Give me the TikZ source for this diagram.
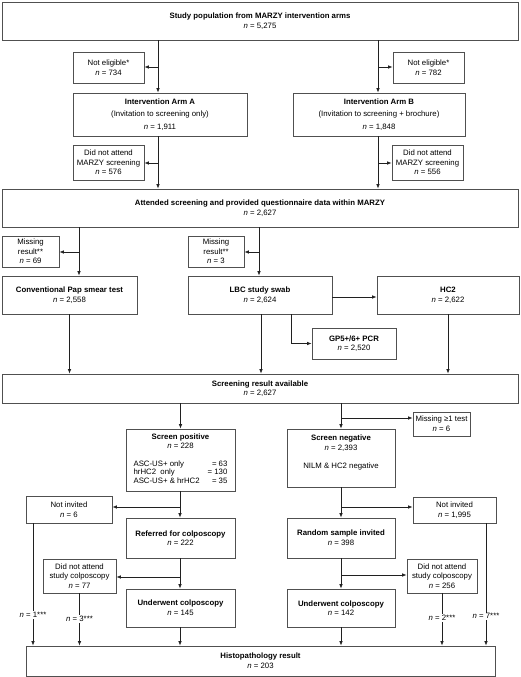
\documentclass[tikz,border=0pt]{standalone}
\usepackage{fontspec}
\setmainfont{Liberation Sans}
\usetikzlibrary{arrows.meta,calc}
\definecolor{boxc}{HTML}{505050}
\definecolor{linec}{HTML}{202020}
\begin{document}
\begin{tikzpicture}[x=1pt,y=-1pt,
  every node/.style={font=\fontsize{7.8}{9.6}\selectfont, text=black},
  box/.style={draw=boxc, line width=0.8pt, align=center, inner sep=0pt},
  conn/.style={draw=linec, line width=0.8pt},
  arr/.style={conn, -{Latex[length=4.5pt,width=3.6pt]}},
  lab/.style={fill=white, inner sep=1pt}]
\useasboundingbox (0,0) rectangle (520,677);
\fill[white] (0,0) rectangle (520,677);
\newcommand{\nn}{\textit{n}}
% boxes
\node[box, minimum width=516pt, minimum height=38pt] (top) at (260,21) {\textbf{Study population from MARZY intervention arms}\\\nn{} = 5,275};
\node[box, minimum width=71pt, minimum height=31pt] (ne1) at (108.5,67.5) {Not eligible*\\\nn{} = 734};
\node[box, minimum width=71pt, minimum height=31pt] (ne2) at (428.5,67.5) {Not eligible*\\\nn{} = 782};
\node[box, minimum width=174pt, minimum height=43pt] (armA) at (160,114.5) {\textbf{Intervention Arm A}\\[3.2pt](Invitation to screening only)\\[3.2pt]\nn{} = 1,911};
\node[box, minimum width=172pt, minimum height=43pt] (armB) at (379,114.5) {\textbf{Intervention Arm B}\\[3.2pt](Invitation to screening + brochure)\\[3.2pt]\nn{} = 1,848};
\node[box, minimum width=71pt, minimum height=35pt] (dna1) at (108.5,162.5) {Did not attend\\MARZY screening\\\nn{} = 576};
\node[box, minimum width=71pt, minimum height=35pt] (dna2) at (427.5,162.5) {Did not attend\\MARZY screening\\\nn{} = 556};
\node[box, minimum width=516pt, minimum height=38pt] (att) at (260,208) {\textbf{Attended screening and provided questionnaire data within MARZY}\\\nn{} = 2,627};
\node[box, minimum width=57pt, minimum height=31pt] (mr1) at (30.5,251.5) {Missing\\result**\\\nn{} = 69};
\node[box, minimum width=56pt, minimum height=31pt] (mr2) at (216,251.5) {Missing\\result**\\\nn{} = 3};
\node[box, minimum width=135pt, minimum height=38pt] (pap) at (69.5,295) {\textbf{Conventional Pap smear test}\\\nn{} = 2,558};
\node[box, minimum width=144pt, minimum height=38pt] (lbc) at (260,295) {\textbf{LBC study swab}\\\nn{} = 2,624};
\node[box, minimum width=142pt, minimum height=38pt] (hc2) at (448,295) {\textbf{HC2}\\\nn{} = 2,622};
\node[box, minimum width=84pt, minimum height=31pt] (gp) at (354,343.5) {\textbf{GP5+/6+ PCR}\\\nn{} = 2,520};
\node[box, minimum width=516pt, minimum height=29pt] (scr) at (260,388.5) {\textbf{Screening result available}\\\nn{} = 2,627};
\node[box, minimum width=57pt, minimum height=24pt] (mis) at (441.5,424) {Missing ≥1 test\\\nn{} = 6};
\node[box, minimum width=109pt, minimum height=62pt] (sp) at (180.5,460) {\textbf{Screen positive}\\\nn{} = 228\\[9.5pt]
  \begin{tabular}{@{}l@{\hspace{8pt}}r@{}}ASC-US+ only & = 63\\[-1pt] hrHC2\ \ only & = 130\\[-1pt] ASC-US+ \& hrHC2 & = 35\end{tabular}};
\node[box, minimum width=108pt, minimum height=58pt] (sn) at (341,458) {\textbf{Screen negative}\\\nn{} = 2,393\\[8pt]NILM \& HC2 negative\\[3pt]~};
\node[box, minimum width=86pt, minimum height=27pt] (ni1) at (69,509.5) {Not invited\\\nn{} = 6};
\node[box, minimum width=83pt, minimum height=26pt] (ni2) at (454.5,510) {Not invited\\\nn{} = 1,995};
\node[box, minimum width=109pt, minimum height=40pt] (ref) at (180.5,538) {\textbf{Referred for colposcopy}\\\nn{} = 222};
\node[box, minimum width=108pt, minimum height=40pt] (ran) at (341,538) {\textbf{Random sample invited}\\\nn{} = 398};
\node[box, minimum width=73pt, minimum height=34pt] (dna3) at (79.5,576) {Did not attend\\study colposcopy\\\nn{} = 77};
\node[box, minimum width=70pt, minimum height=34pt] (dna4) at (442,576) {Did not attend\\study colposcopy\\\nn{} = 256};
\node[box, minimum width=109pt, minimum height=38pt] (uw1) at (180.5,608) {\textbf{Underwent colposcopy}\\\nn{} = 145};
\node[box, minimum width=108pt, minimum height=38pt] (uw2) at (341,608) {\textbf{Underwent colposcopy}\\\nn{} = 142};
\node[box, minimum width=469pt, minimum height=30pt] (his) at (260.5,661) {\textbf{Histopathology result}\\\nn{} = 203};
% helper coordinates
\coordinate (bA) at (158,67);
\coordinate (bB) at (378,67);
\coordinate (cA) at (158,163);
\coordinate (cB) at (378,163);
\coordinate (xP) at (79,252);
\coordinate (xL) at (259,252);
\coordinate (xG) at (291,0);
\coordinate (xL2) at (261,0);
\coordinate (bM) at (341,418);
\coordinate (bS) at (180,507);
\coordinate (bN) at (341,507);
\coordinate (bR) at (180,577);
\coordinate (bU) at (341,575);
\coordinate (xN1) at (33,0);
\coordinate (xN2) at (486,0);
% connectors
\draw[arr] (top.south -| bA) -- (armA.north -| bA);
\draw[arr] (bA) -- (ne1.east |- bA);
\draw[arr] (top.south -| bB) -- (armB.north -| bB);
\draw[arr] (bB) -- (ne2.west |- bB);
\draw[arr] (armA.south -| cA) -- (att.north -| cA);
\draw[arr] (cA) -- (dna1.east |- cA);
\draw[arr] (armB.south -| cB) -- (att.north -| cB);
\draw[arr] (cB) -- (dna2.west |- cB);
\draw[arr] (att.south -| xP) -- (pap.north -| xP);
\draw[arr] (xP) -- (mr1.east |- xP);
\draw[arr] (att.south -| xL) -- (lbc.north -| xL);
\draw[arr] (xL) -- (mr2.east |- xL);
\draw[arr] (lbc.east |- 0,297) -- (hc2.west |- 0,297);
\draw[arr] (lbc.south -| xG) |- (gp.west);
\draw[arr] (pap.south) -- (scr.north -| pap.south);
\draw[arr] (lbc.south -| xL2) -- (scr.north -| xL2);
\draw[arr] (hc2.south) -- (scr.north -| hc2.south);
\draw[arr] (scr.south -| sp.north) -- (sp.north);
\draw[arr] (scr.south -| bM) -- (sn.north -| bM);
\draw[arr] (bM) -- (mis.west |- bM);
\draw[arr] (sp.south -| bS) -- (ref.north -| bS);
\draw[arr] (bS) -- (ni1.east |- bS);
\draw[arr] (sn.south -| bN) -- (ran.north -| bN);
\draw[arr] (bN) -- (ni2.west |- bN);
\draw[arr] (ref.south -| bR) -- (uw1.north -| bR);
\draw[arr] (bR) -- (dna3.east |- bR);
\draw[arr] (ran.south -| bU) -- (uw2.north -| bU);
\draw[arr] (bU) -- (dna4.west |- bU);
\draw[arr] (uw1.south -| bR) -- (his.north -| bR);
\draw[arr] (uw2.south -| bU) -- (his.north -| bU);
\draw[arr] (ni1.south -| xN1) -- node[lab, pos=0.75] {\nn{} = 1***} (his.north -| xN1);
\draw[arr] (dna3.south) -- node[lab, pos=0.49] {\nn{} = 3***} (his.north -| dna3.south);
\draw[arr] (dna4.south) -- node[lab, pos=0.47] {\nn{} = 2***} (his.north -| dna4.south);
\draw[arr] (ni2.south -| xN2) -- node[lab, pos=0.76] {\nn{} = 7***} (his.north -| xN2);
\end{tikzpicture}
\end{document}
